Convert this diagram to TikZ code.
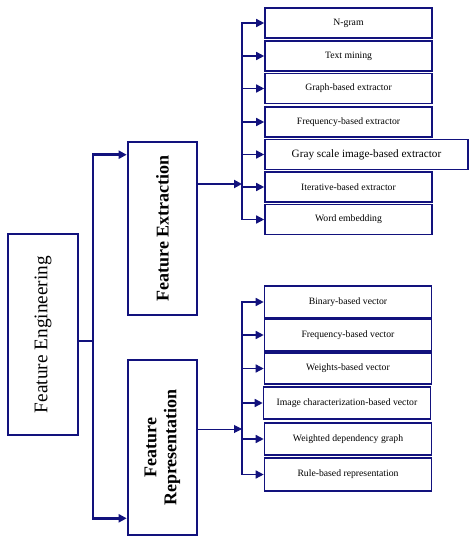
\documentclass[tikz,border=0pt]{standalone}
\usepackage{fontspec}
\setmainfont{Liberation Serif}
\usetikzlibrary{arrows.meta}
\definecolor{navy}{RGB}{18,18,125}
\begin{document}
\begin{tikzpicture}[>={Triangle[length=8pt,width=8pt]},x=1pt,y=-1pt,
		bigbox/.style={draw=navy,line width=2.6pt,rotate=90,inner sep=0pt,align=center,font=\fontsize{18}{20}\selectfont\bfseries},
		itembox/.style={draw=navy,line width=1.6pt,minimum width=167pt,minimum height=30pt,inner sep=0pt,font=\fontsize{9.7}{11}\selectfont},
		bigline/.style={navy,line width=2.6pt},
		link/.style={navy,line width=1.5pt}]
		\useasboundingbox (0,0) rectangle (474,540);
		% main blocks (rotated: south is the right side, north the left side)
		\node[bigbox,minimum width=201pt,minimum height=70pt,font=\fontsize{19.3}{22}\selectfont] (eng) at (43,334.5) {Feature Engineering};
		\node[bigbox,minimum width=173pt,minimum height=69pt] (ext) at (162.5,228.5) {Feature Extraction};
		\node[bigbox,minimum width=175pt,minimum height=69pt] (rep) at (162.5,447.5) {Feature\\Representation};
		% extraction methods
		\node[itembox] (ngram) at (348.5,23) {N-gram};
		\node[itembox] (mining) at (348.5,56) {Text mining};
		\node[itembox] (graph) at (348.5,88.5) {Graph-based extractor};
		\node[itembox] (freq) at (348.5,122) {Frequency-based extractor};
		\node[itembox,minimum width=203pt,font=\fontsize{11.2}{13}\selectfont] (gray) at (366.5,154.5) {Gray scale image-based extractor};
		\node[itembox] (iter) at (348.5,187) {Iterative-based extractor};
		\node[itembox] (embed) at (348.5,219.5) {Word embedding};
		% representation methods
		\node[itembox,minimum height=32pt] (binary) at (348,302) {Binary-based vector};
		\node[itembox,minimum height=32pt] (fvec) at (348,335) {Frequency-based vector};
		\node[itembox,minimum height=31pt] (weights) at (348,368.5) {Weights-based vector};
		\node[itembox,minimum height=32pt] (image) at (347,403) {Image characterization-based vector};
		\node[itembox,minimum height=32pt] (wgraph) at (348,439) {Weighted dependency graph};
		\node[itembox,minimum height=33pt] (rule) at (348,474.5) {Rule-based representation};
		% connectors
		\coordinate (split) at (93,341);
		\coordinate (hubA) at (242,184);
		\coordinate (hubB) at (242,429);
		\draw[bigline] (eng.south |- split) -- (split);
		\draw[bigline,->] (split) |- ([yshift=-14pt]ext.north east);
		\draw[bigline,->] (split) |- ([yshift=18pt]rep.north west);
		\draw[bigline,->] (ext.south |- hubA) -- (hubA);
		\draw[navy,line width=1pt,->] (rep.south |- hubB) -- (hubB);
		\foreach \item in {ngram,mining,graph,freq,gray,iter,embed}
			\draw[link,->] (hubA) |- (\item.west);
		\foreach \item in {binary,fvec,weights,image,wgraph,rule}
			\draw[link,->] (hubB) |- (\item.west);
\end{tikzpicture}
\end{document}
